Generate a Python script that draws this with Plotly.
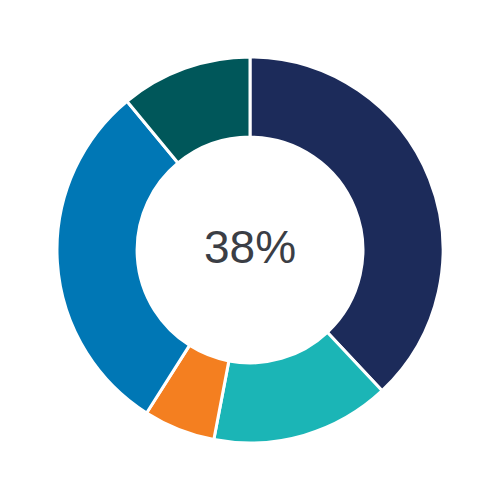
import plotly.graph_objects as go

# Segment shares, clockwise from 12 o'clock
labels = ["Segment A", "Segment B", "Segment C", "Segment D", "Segment E"]
values = [38, 15, 6, 30, 11]
colors = ["#1c2b5a", "#1bb5b6", "#f47f20", "#0077b5", "#00575a"]
center_text = "38%"

fig = go.Figure(go.Pie(
    labels=labels,
    values=values,
    hole=0.585,
    sort=False,
    direction="clockwise",
    rotation=0,
    textinfo="none",
    hoverinfo="label+percent",
    marker=dict(colors=colors, line=dict(color="white", width=3)),
))

# page body adds an 8px offset, so margins are skewed to keep the ring centred
fig.update_layout(
    width=500, height=500,
    margin=dict(l=49, r=65, t=49, b=65),
    showlegend=False,
    paper_bgcolor="white",
    annotations=[dict(
        text=center_text, x=0.5, y=0.5, xref="paper", yref="paper",
        showarrow=False, yshift=3,
        font=dict(family="Liberation Sans, Arial", size=46, color="#3b3e45"),
    )],
)

fig.write_html("out.html")
